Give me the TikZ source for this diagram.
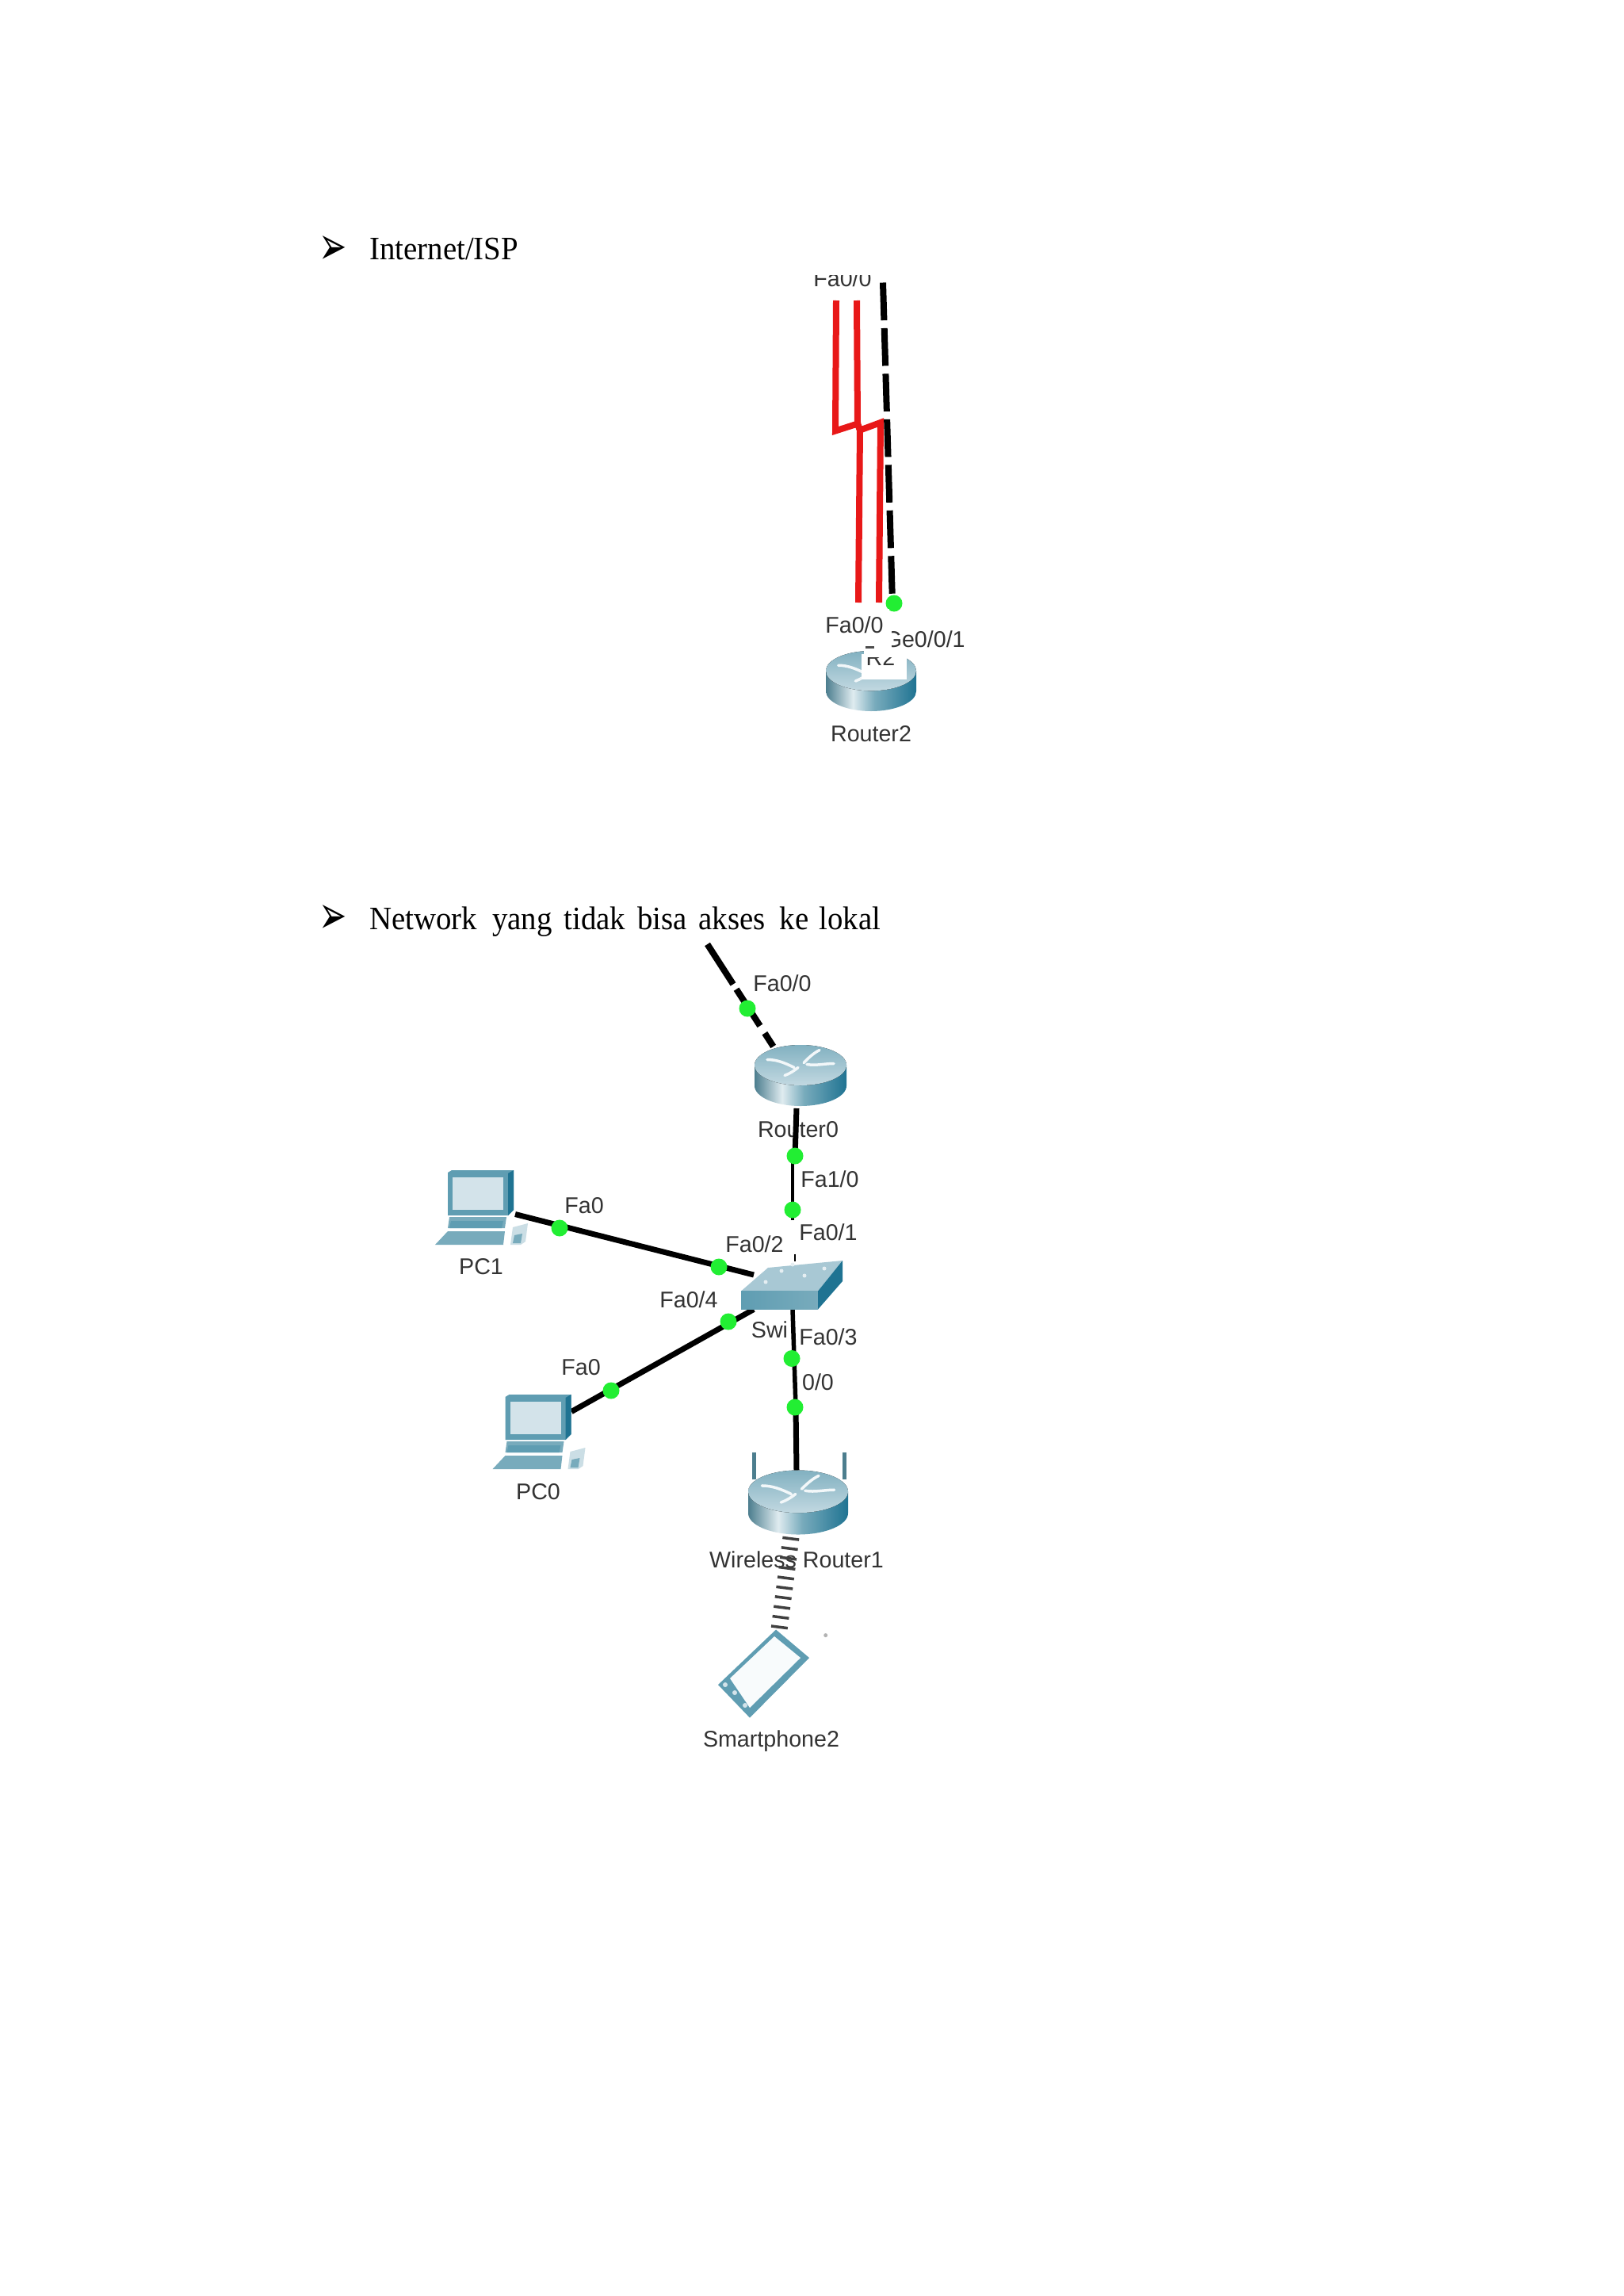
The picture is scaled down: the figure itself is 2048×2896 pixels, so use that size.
\documentclass[tikz,border=0pt]{standalone}
\usepackage{fontspec}
\setmainfont{Liberation Sans}
\newfontfamily\headfont[FakeStretch=0.94]{Liberation Serif}
\newfontfamily\bulletfont{DejaVu Sans}
\definecolor{teal1}{HTML}{5F9DB2}
\definecolor{teal2}{HTML}{1F7392}
\definecolor{teal3}{HTML}{A8C8D4}
\definecolor{teal4}{HTML}{D3E3EA}
\definecolor{teal5}{HTML}{78ABBC}
\definecolor{portgreen}{HTML}{22EE33}
\definecolor{wirered}{HTML}{E81818}
\definecolor{labelgray}{HTML}{333333}
\pgfdeclarehorizontalshading{routerside}{100bp}{
  color(0bp)=(teal1!80!black); color(25bp)=(teal1!80!black);
  color(40bp)=(white!80!teal1); color(52bp)=(teal5);
  color(75bp)=(teal2); color(100bp)=(teal2)}
\newcommand{\gp}[1]{\hspace{#1\dimexpr0.02cm\relax}}
\tikzset{
  headtext/.style={anchor=base west,inner sep=0pt,font=\headfont\fontsize{23.5}{26}\selectfont,text=black},
  bulletmark/.style={anchor=center,inner sep=0pt,font=\bulletfont\fontsize{24}{26}\selectfont,text=black},
  devlabel/.style={anchor=base,inner sep=0pt,xshift=-0.04cm,yshift=0.04cm,font=\fontsize{16.3}{18}\selectfont,text=labelgray},
  port/.style={circle,fill=portgreen,draw=none,inner sep=0pt,minimum size=0.42cm},
  cablethick/.style={line width=0.14cm,black},
  cablethin/.style={line width=0.07cm,black},
  cablemid/.style={line width=0.11cm,black},
  cabledash/.style={line width=0.16cm,black,dash pattern=on 0.95cm off 0.2cm},
  cablered/.style={line width=0.16cm,wirered,line join=miter},
  cablewifi/.style={line width=0.42cm,black!75,dash pattern=on 0.07cm off 0.18cm},
  maskbox/.style={fill=white,draw=none},
  routericon/.pic={
    \path[shading=routerside]
      (-58,-13) -- (-58,13) .. controls (-58,27) and (-32,38.5) .. (0,38.5)
      .. controls (32,38.5) and (58,27) .. (58,13) -- (58,-13) -- cycle;
    \fill[top color=teal5!80!teal3,bottom color=teal3!70!white] (0,-13) ellipse [x radius=58,y radius=25.5];
    \draw[white!85!teal3,line width=0.07cm,line cap=round]
      (-42,-20) .. controls (-30,-20) and (-20,-16) .. (-8,-10)
      (42,-15) .. controls (30,-15) and (20,-12) .. (8,-14)
      (24,-32) .. controls (16,-28) and (10,-22) .. (4,-16)
      (-20,0) .. controls (-14,-2) and (-8,-6) .. (-3,-10);
  },
  pcicon/.pic={
    \fill[teal1] (0,3) -- (5,0) -- (83,0) -- (83,50) -- (76,57) -- (0,57) -- cycle;
    \fill[teal2] (76,4) -- (83,0) -- (83,50) -- (76,57) -- cycle;
    \fill[teal4] (6,9) -- (70,9) -- (70,50) -- (6,50) -- cycle;
    \fill[teal5] (2,59) -- (74,59) -- (72,73) -- (0,73) -- cycle;
    \fill[teal1] (4,64) -- (70,64) -- (68,73) -- (2,73) -- cycle;
    \fill[teal5] (0,77) -- (72,77) -- (70,94) -- (-16,94) -- cycle;
    \fill[teal3!60!white] (82,72) -- (101,67) -- (98,90) -- (92,94) -- (79,94) -- cycle;
    \fill[teal5] (84,82) -- (94,80) -- (92,92) -- (82,92) -- cycle;
  },
}
\begin{document}
\begin{tikzpicture}[x=0.02cm,y=-0.02cm]
\useasboundingbox (0,0) rectangle (2048,2896);
\fill[white] (0,0) rectangle (2048,2896);

% headings
\node[bulletmark] (bulletA) at (420,316) {\scalebox{1}[1.6]{➢}};
\node[headtext] (headA) at (466,328) {Internet/ISP};
\node[bulletmark] (bulletB) at (420,1160) {\scalebox{1}[1.6]{➢}};
\node[headtext] (headB) at (466,1172) {Network\gp{19}yang\gp{15}tidak\gp{15}bisa\gp{15}akses\gp{18}ke\gp{13}lokal};

% ---------- upper figure ----------
\node[devlabel] (faTop) at (1065,363) {Fa0/0};
\fill[maskbox] (1020,330) rectangle (1110,347.5);

\coordinate (ra1) at (1055,379);
\coordinate (ra2) at (1054,543.5);
\coordinate (rm1) at (1082,534.5);
\coordinate (rm2) at (1085,542.6);
\coordinate (rb1) at (1111,533);
\coordinate (rb2) at (1109,760);
\coordinate (rc1) at (1081,379);
\coordinate (rc2) at (1083,760);
\coordinate (da1) at (1114,356.5);
\coordinate (da2) at (1126,760);
\draw[cablered] (ra1) -- (ra2) -- (rm1) -- (rm2) -- (rb1) -- (rb2);
\draw[cablered] (rc1) -- (rm1) -- (rm2) -- (rc2);
\draw[cabledash] (da1) -- (da2);
\node[port] (p2a) at (1128,761) {};
\fill[maskbox] (1086,768) rectangle (1122,800);

\pic[xscale=0.983,yscale=0.987] at (1099,859) {routericon};
\fill[maskbox] (1087,825) rectangle (1144,857);
\node[devlabel,anchor=base east] (geLab) at (1220,818.5) {Ge0/0/1};
\fill[maskbox] (1092,796) rectangle (1125,830);
\fill[black!70] (1092,815) rectangle (1103,818);
\node[devlabel] (faLow) at (1080,800.6) {Fa0/0};
\node[devlabel] (r2Lab) at (1113,841) {R2};
\fill[maskbox] (1090,819) rectangle (1138,829);
\node[devlabel] (r2Name) at (1101,937.5) {Router2};

% ---------- lower figure: labels under cables ----------
\node[devlabel] (r0Name) at (1009,1436) {Router0};
\node[devlabel] (wrName) at (1007,1979) {Wireless Router1};
\node[devlabel] (swName) at (973,1689) {Swi};

% endpoints
\coordinate (isp) at (892.5,1191);
\coordinate (r0up) at (977,1322);
\coordinate (r0dn) at (1005,1398);
\coordinate (brk1) at (1003,1458);
\coordinate (thn1) at (1000,1466);
\coordinate (thn2) at (1000,1539);
\coordinate (mk1) at (1003,1581.5);
\coordinate (mk2) at (1003,1591);
\coordinate (pc1e) at (650,1531.5);
\coordinate (sw1) at (951,1608);
\coordinate (sw2) at (951,1651.5);
\coordinate (pc0e) at (721,1780.5);
\coordinate (sw3) at (1000,1651);
\coordinate (mid3) at (1004,1775);
\coordinate (wrup) at (1005,1854.5);
\coordinate (wrdn) at (998,1939);
\coordinate (phup) at (983,2055.5);

\draw[cabledash,dash pattern=on 1.2cm off 0.15cm on 1.1cm off 0.22cm on 0.4cm off 0.2cm on 1cm off 0.2cm] (isp) -- (r0up);
\draw[cablethick] (r0dn) -- (brk1);
\draw[cablethin] (thn1) -- (thn2);
\draw[black,line width=0.03cm] (mk1) -- (mk2);
\draw[cablethick] (pc1e) -- (sw1);
\draw[cablethick] (pc0e) -- (sw2);
\draw[cablemid] (sw3) -- (mid3);
\draw[cablethick] (mid3) -- (wrup);
\draw[cablewifi] (wrdn) -- (phup);

% ports
\node[port] (p0a) at (943,1272) {};
\node[port] (p0b) at (1003,1458) {};
\node[port] (p0c) at (1000,1526) {};
\node[port] (p1a) at (706,1549) {};
\node[port] (p1b) at (907,1598) {};
\node[port] (p3a) at (771,1754) {};
\node[port] (p3b) at (919,1667) {};
\node[port] (p4a) at (999,1713.5) {};
\node[port] (p4b) at (1003,1775) {};

% port labels
\node[devlabel] (l1) at (989,1252) {Fa0/0};
\node[devlabel] (l2) at (1049,1499) {Fa1/0};
\node[devlabel] (l3) at (1047,1566) {Fa0/1};
\node[devlabel] (l4) at (954,1581) {Fa0/2};
\node[devlabel] (l5) at (871,1651.5) {Fa0/4};
\node[devlabel] (l6) at (1047,1698) {Fa0/3};
\node[devlabel] (l7) at (739,1532) {Fa0};
\node[devlabel] (l8) at (735,1736) {Fa0};
\node[devlabel] (l9) at (1034,1755) {0/0};

% Router0
\pic at (1010,1356.5) {routericon};

% Switch
\fill[teal3] (935,1628.5) -- (969,1599) -- (1063,1590) -- (1032,1628.5) -- cycle;
\fill[white!70!teal3] (966,1617) circle (2.5) (986,1603) circle (2.5) (1015,1609) circle (2.5) (1040,1600) circle (2.5) (1000,1595) circle (2.5);
\path[left color=teal1,right color=teal5] (935,1628.5) rectangle (1032,1651.5);
\fill[teal2] (1032,1628.5) -- (1063,1590) -- (1063,1616) -- (1032,1651.5) -- cycle;

% PCs
\pic at (565,1476) {pcicon};
\node[devlabel] (pc1Name) at (609,1609) {PC1};
\pic at (637.5,1759) {pcicon};
\node[devlabel] (pc0Name) at (681,1893) {PC0};

% Wireless router
\draw[teal1!80!black,line width=0.1cm] (951,1832) -- (951,1866);
\draw[teal1!80!black,line width=0.1cm] (1065,1832) -- (1065,1866);
\pic[xscale=1.086,yscale=1.052] at (1007,1895) {routericon};

% Smartphone
\fill[teal1] (979,2055.5) -- (1021,2091) -- (946,2166.6) -- (906,2125) -- cycle;
\fill[white!85!teal4] (977,2064) -- (1010,2091) -- (946,2154) -- (921,2117) -- cycle;
\fill[teal4] (915,2125) circle (3) (927,2135) circle (3) (940,2151) circle (3);
\fill[black!30] (1041.7,2062.6) circle (2.5);
\node[devlabel] (phName) at (975,2205) {Smartphone2};
\end{tikzpicture}
\end{document}
